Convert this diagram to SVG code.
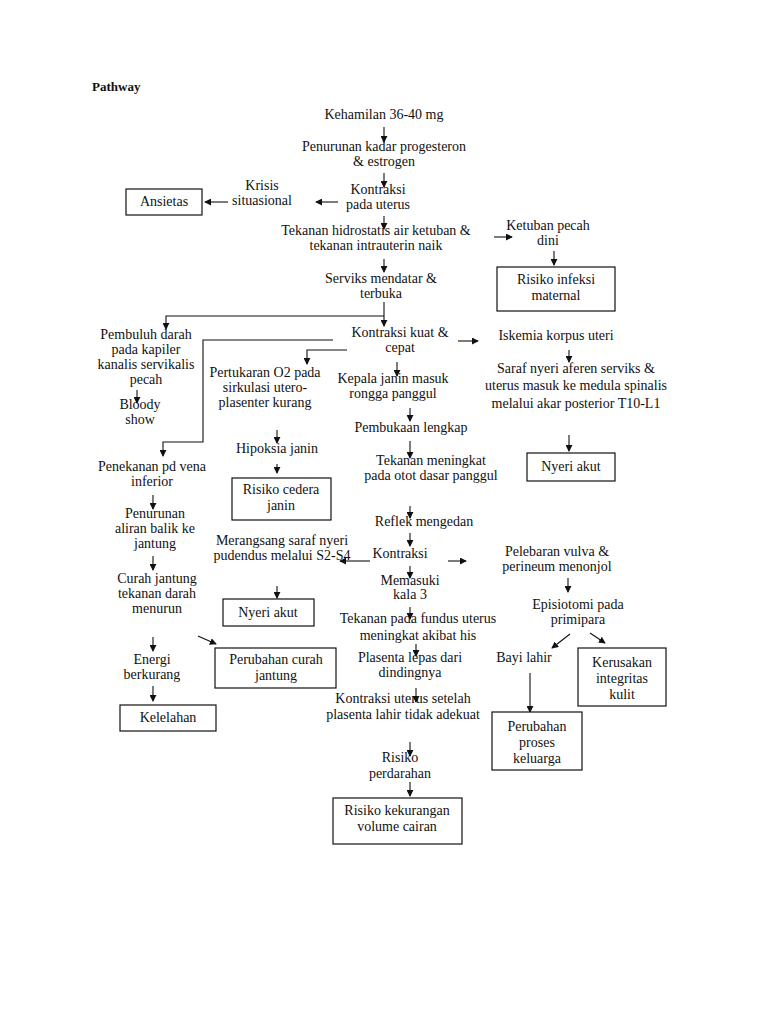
<svg xmlns="http://www.w3.org/2000/svg" width="768" height="1024" viewBox="0 0 768 1024">
<style>
text{font-family:"Liberation Serif","Times New Roman",serif;font-size:14px;fill:#111;text-anchor:middle}
.b{fill:#fff;stroke:#111;stroke-width:1.2}
.c line,.c polyline{stroke:#111;stroke-width:1.1;fill:none;marker-end:url(#a)}
</style>
<defs><marker id="a" viewBox="0 0 8 8" refX="7" refY="4" markerWidth="7" markerHeight="7" orient="auto" markerUnits="userSpaceOnUse"><path d="M0,0L8,4L0,8z" fill="#111"/></marker></defs>
<rect width="768" height="1024" fill="#fff"/>
<text x="92" y="91" style="text-anchor:start;font-weight:bold;font-size:13px">Pathway</text>
<g class="c">
<line x1="384" y1="127" x2="384" y2="142"/>
<line x1="384" y1="173" x2="384" y2="187"/>
<line x1="338" y1="202" x2="316" y2="202"/>
<line x1="228" y1="202" x2="205" y2="202"/>
<line x1="384" y1="216" x2="384" y2="229"/>
<line x1="494" y1="237" x2="512" y2="237"/>
<line x1="554" y1="251" x2="554" y2="265"/>
<line x1="384" y1="259" x2="384" y2="272"/>
<line x1="384" y1="302" x2="384" y2="326"/>
<polyline points="384,316 166,316 166,329"/>
<line x1="137" y1="390" x2="137" y2="403"/>
<line x1="458" y1="341" x2="478" y2="341"/>
<line x1="569" y1="350" x2="569" y2="362"/>
<line x1="569" y1="435" x2="569" y2="451"/>
<polyline points="333,340 203,340 203,442 163,442 163,456"/>
<polyline points="347,350 307,350 307,364"/>
<line x1="277" y1="430" x2="277" y2="443"/>
<line x1="277" y1="464" x2="277" y2="473"/>
<line x1="397" y1="362" x2="397" y2="376"/>
<line x1="410" y1="408" x2="410" y2="421"/>
<line x1="410" y1="441" x2="410" y2="458"/>
<line x1="410" y1="506" x2="410" y2="518"/>
<line x1="410" y1="533" x2="410" y2="546"/>
<line x1="370" y1="561" x2="340" y2="561"/>
<line x1="277" y1="586" x2="277" y2="598"/>
<line x1="448" y1="561" x2="466" y2="561"/>
<line x1="568" y1="578" x2="568" y2="592"/>
<line x1="570" y1="634" x2="552" y2="648"/>
<line x1="590" y1="633" x2="605" y2="643"/>
<line x1="530" y1="673" x2="530" y2="712"/>
<line x1="410" y1="566" x2="410" y2="578"/>
<line x1="410" y1="607" x2="410" y2="619"/>
<line x1="416" y1="644" x2="416" y2="656"/>
<line x1="416" y1="688" x2="416" y2="702"/>
<line x1="410" y1="742" x2="410" y2="756"/>
<line x1="410" y1="782" x2="410" y2="796"/>
<line x1="153" y1="495" x2="153" y2="509"/>
<line x1="153" y1="556" x2="153" y2="570"/>
<line x1="153" y1="637" x2="153" y2="651"/>
<line x1="153" y1="686" x2="153" y2="701"/>
<line x1="198" y1="636" x2="216" y2="644"/>
</g>
<g id="n1"><text x="384" y="119">Kehamilan 36-40 mg</text></g>
<g id="n2"><text x="384" y="151">Penurunan kadar progesteron</text><text x="384" y="166">&amp; estrogen</text></g>
<g id="n3"><text x="378" y="194">Kontraksi</text><text x="378" y="209">pada uterus</text></g>
<g id="n4"><text x="262" y="190">Krisis</text><text x="262" y="205">situasional</text></g>
<g id="n5"><rect class="b" x="126" y="189" width="76" height="26"/><text x="164" y="206">Ansietas</text></g>
<g id="n6"><text x="376" y="235">Tekanan hidrostatis air ketuban &amp;</text><text x="376" y="250">tekanan intrauterin naik</text></g>
<g id="n7"><text x="548" y="230">Ketuban pecah</text><text x="548" y="245">dini</text></g>
<g id="n8"><rect class="b" x="497" y="267" width="118" height="44"/><text x="556" y="284">Risiko infeksi</text><text x="556" y="300">maternal</text></g>
<g id="n9"><text x="381" y="283">Serviks mendatar &amp;</text><text x="381" y="298">terbuka</text></g>
<g id="n10"><text x="146" y="339">Pembuluh darah</text><text x="146" y="354">pada kapiler</text><text x="146" y="369">kanalis servikalis</text><text x="146" y="384">pecah</text></g>
<g id="n11"><text x="140" y="409">Bloody</text><text x="140" y="424">show</text></g>
<g id="n12"><text x="400" y="337">Kontraksi kuat &amp;</text><text x="400" y="352">cepat</text></g>
<g id="n13"><text x="556" y="340">Iskemia korpus uteri</text></g>
<g id="n14"><text x="576" y="373">Saraf nyeri aferen serviks &amp;</text><text x="576" y="390">uterus masuk ke medula spinalis</text><text x="576" y="408">melalui akar posterior T10-L1</text></g>
<g id="n15"><rect class="b" x="527" y="453" width="88" height="28"/><text x="571" y="471">Nyeri akut</text></g>
<g id="n16"><text x="265" y="377">Pertukaran O2 pada</text><text x="265" y="392">sirkulasi utero-</text><text x="265" y="407">plasenter kurang</text></g>
<g id="n17"><text x="277" y="453">Hipoksia janin</text></g>
<g id="n18"><rect class="b" x="232" y="478" width="99" height="42"/><text x="281" y="494">Risiko cedera</text><text x="281" y="510">janin</text></g>
<g id="n19"><text x="393" y="383">Kepala janin masuk</text><text x="393" y="398">rongga panggul</text></g>
<g id="n20"><text x="411" y="432">Pembukaan lengkap</text></g>
<g id="n21"><text x="431" y="465">Tekanan meningkat</text><text x="431" y="480">pada otot dasar panggul</text></g>
<g id="n22"><text x="424" y="526">Reflek mengedan</text></g>
<g id="n23"><text x="400" y="558">Kontraksi</text></g>
<g id="n24"><text x="282" y="545">Merangsang saraf nyeri</text><text x="282" y="560">pudendus melalui S2-S4</text></g>
<g id="n25"><rect class="b" x="223" y="599" width="91" height="27"/><text x="268" y="617">Nyeri akut</text></g>
<g id="n26"><text x="557" y="556">Pelebaran vulva &amp;</text><text x="557" y="571">perineum menonjol</text></g>
<g id="n27"><text x="578" y="609">Episiotomi pada</text><text x="578" y="624">primipara</text></g>
<g id="n28"><text x="524" y="662">Bayi lahir</text></g>
<g id="n29"><rect class="b" x="578" y="648" width="88" height="58"/><text x="622" y="667">Kerusakan</text><text x="622" y="683">integritas</text><text x="622" y="699">kulit</text></g>
<g id="n30"><rect class="b" x="492" y="712" width="90" height="58"/><text x="537" y="731">Perubahan</text><text x="537" y="747">proses</text><text x="537" y="763">keluarga</text></g>
<g id="n31"><text x="410" y="585">Memasuki</text><text x="410" y="599">kala 3</text></g>
<g id="n32"><text x="418" y="623">Tekanan pada fundus uterus</text><text x="418" y="640">meningkat akibat his</text></g>
<g id="n33"><text x="410" y="662">Plasenta lepas dari</text><text x="410" y="677">dindingnya</text></g>
<g id="n34"><text x="403" y="703">Kontraksi uterus setelah</text><text x="403" y="719">plasenta lahir tidak adekuat</text></g>
<g id="n35"><text x="400" y="762">Risiko</text><text x="400" y="778">perdarahan</text></g>
<g id="n36"><rect class="b" x="333" y="798" width="129" height="46"/><text x="397" y="815">Risiko kekurangan</text><text x="397" y="831">volume cairan</text></g>
<g id="n37"><text x="152" y="471">Penekanan pd vena</text><text x="152" y="486">inferior</text></g>
<g id="n38"><text x="155" y="518">Penurunan</text><text x="155" y="533">aliran balik ke</text><text x="155" y="548">jantung</text></g>
<g id="n39"><text x="157" y="583">Curah jantung</text><text x="157" y="598">tekanan darah</text><text x="157" y="613">menurun</text></g>
<g id="n40"><text x="152" y="664">Energi</text><text x="152" y="679">berkurang</text></g>
<g id="n41"><rect class="b" x="120" y="705" width="96" height="26"/><text x="168" y="722">Kelelahan</text></g>
<g id="n42"><rect class="b" x="215" y="648" width="121" height="40"/><text x="276" y="664">Perubahan curah</text><text x="276" y="680">jantung</text></g>
</svg>
